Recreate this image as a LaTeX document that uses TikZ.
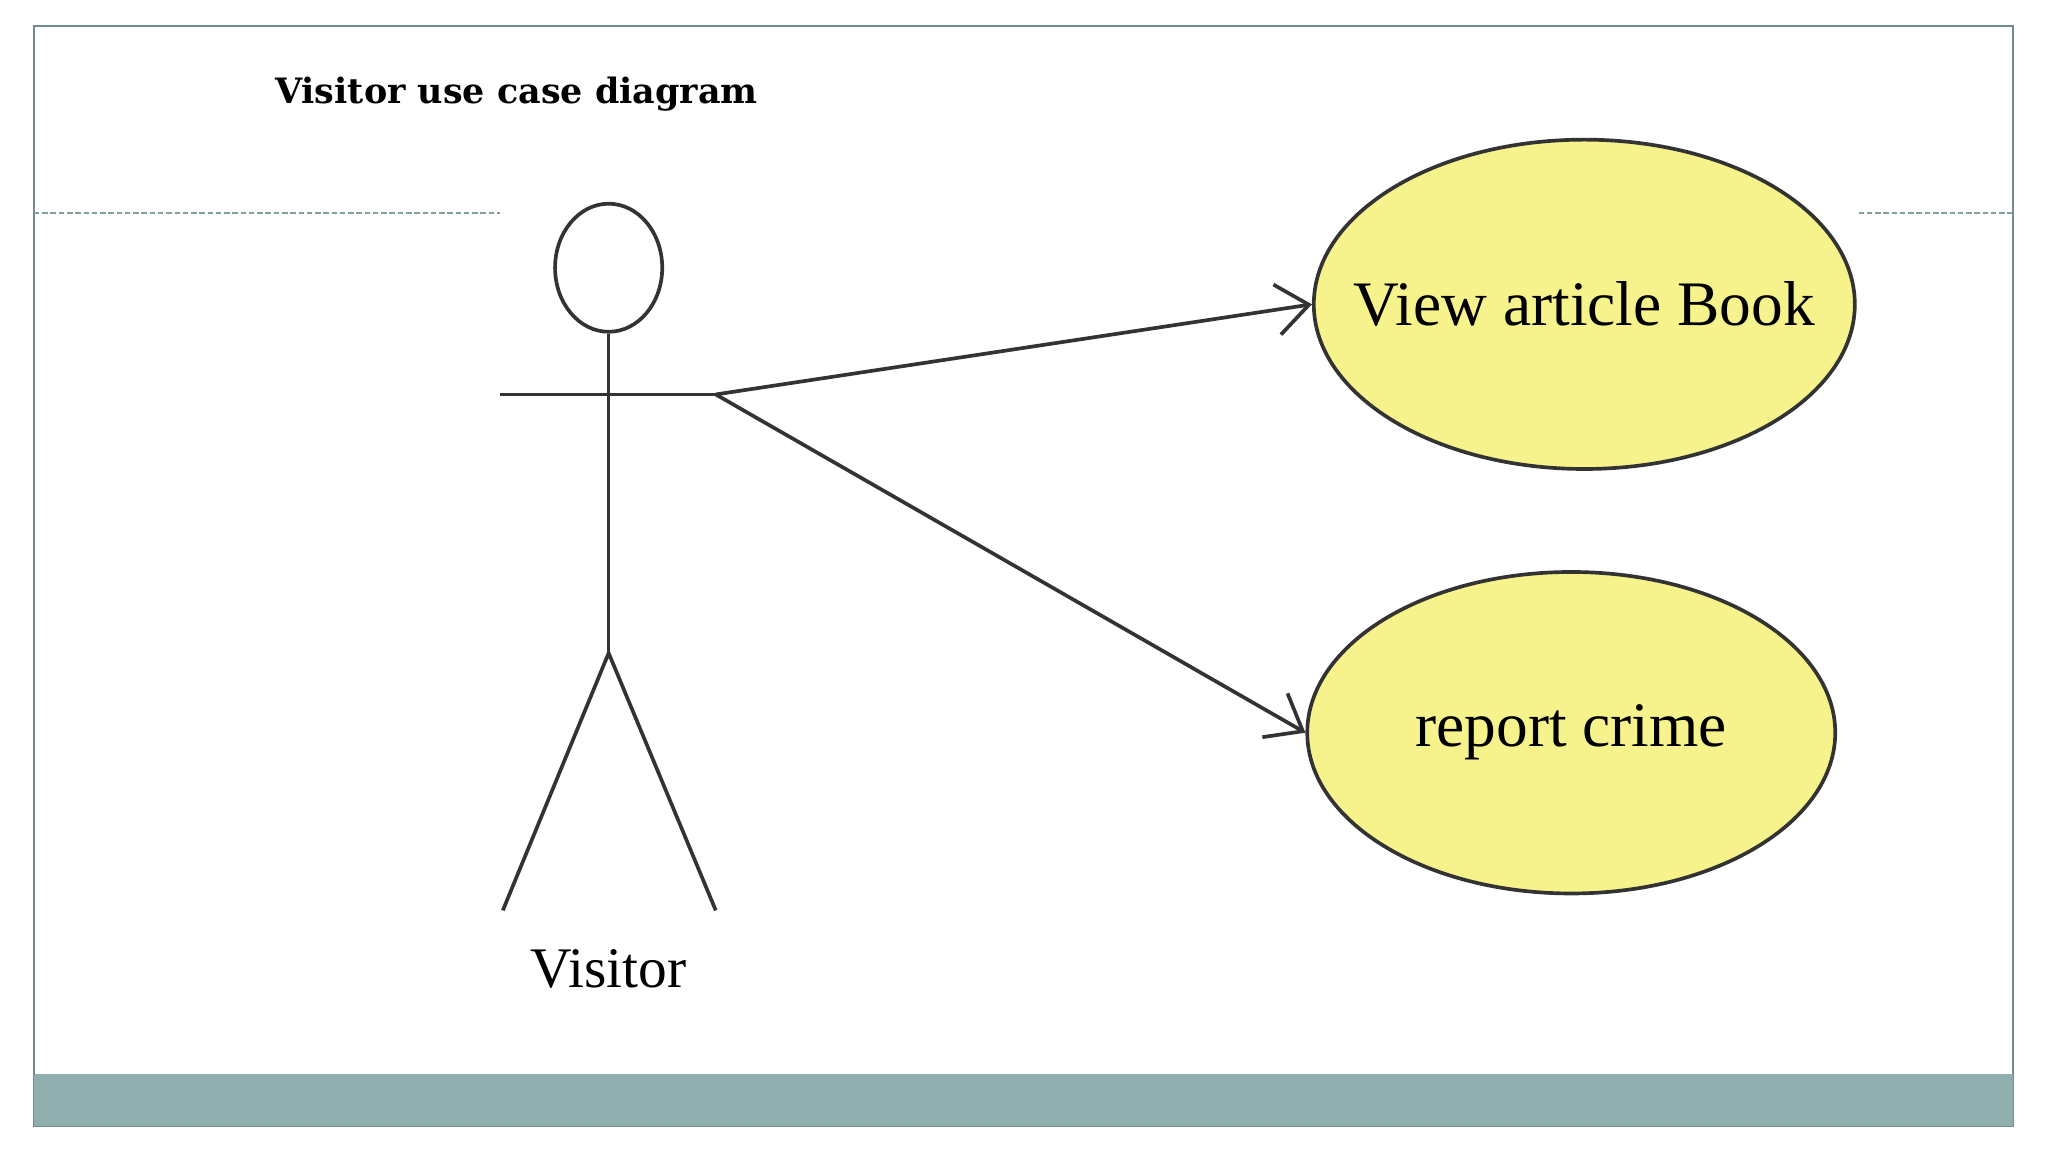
\documentclass[tikz,border=0pt]{standalone}
\usepackage{fontspec}
\setmainfont{Liberation Serif}
\newfontfamily\titlefont{DejaVu Serif}
\usetikzlibrary{shapes.geometric,arrows.meta}
\begin{document}
\begin{tikzpicture}[x=0.01cm,y=-0.01cm,
  uc/.style={ellipse,draw=black!80,line width=0.8pt,fill=ucyellow,inner sep=0pt},
  uctext/.style={font=\fontsize{13.8pt}{16pt}\selectfont},
  stick/.style={draw=black!80,line width=0.8pt},
  rule/.style={draw=band!90!black,line width=0.4pt,dash pattern=on 1.2pt off 0.6pt},
  link/.style={draw=black!80,line width=0.8pt,-{Straight Barb[length=7pt,width=11pt]}}]
\definecolor{ucyellow}{HTML}{F6F28C}
\definecolor{band}{HTML}{8FAEAE}
\useasboundingbox (0,0) rectangle (1568,882);
\fill[white] (0,0) rectangle (1568,882);
\draw[band!80!black,line width=0.5pt] (26,20) rectangle (1541,862);
\fill[band] (26,822) rectangle (1541,862);
\draw[rule] (26,163) -- (383,163);
\draw[rule] (1423,163) -- (1541,163);
\node[anchor=west,inner sep=0pt,font=\titlefont\bfseries\fontsize{7.6pt}{9pt}\selectfont] (title) at (210,72) {Visitor use case diagram};
% actor
\node[ellipse,stick,minimum width=0.82cm,minimum height=0.98cm,inner sep=0pt] (head) at (466,205) {};
\coordinate (hip) at (466,500);
\coordinate (larm) at (383,302);
\coordinate (hand) at (548,302);
\coordinate (lfoot) at (385,697);
\coordinate (rfoot) at (548,697);
\draw[stick] (head.south) -- (hip);
\draw[stick] (larm) -- (hand);
\draw[stick] (lfoot) -- (hip) -- (rfoot);
\node[font=\fontsize{12.5pt}{15pt}\selectfont] (visitor) at (466,742) {Visitor};
% use cases
\node[uc,minimum width=4.14cm,minimum height=2.52cm] (view) at (1213,233) {};
\node[uctext] (viewtext) at (view.center) {View article Book};
\node[uc,minimum width=4.04cm,minimum height=2.46cm] (report) at (1203,561) {};
\node[uctext] (reporttext) at (report.center) {report crime};
\draw[link] (hand) -- (view.west);
\draw[link] (hand) -- (report.west);
\end{tikzpicture}
\end{document}
